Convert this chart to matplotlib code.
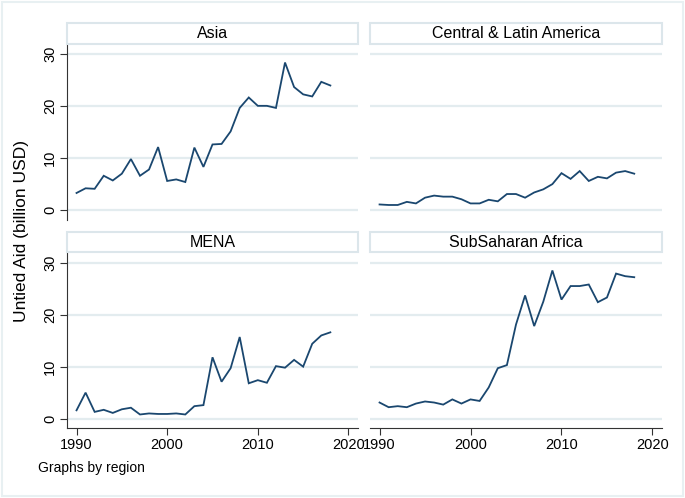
import matplotlib
matplotlib.use("Agg")
import matplotlib.pyplot as plt
from matplotlib.patches import Rectangle

plt.rcParams['font.family'] = ['Liberation Sans', 'DejaVu Sans']

# data (billion USD)
years = list(range(1990, 2019))
asia = [3.3, 4.2, 4.1, 6.6, 5.7, 7.0, 9.8, 6.6, 7.8, 12.1,
        5.6, 5.9, 5.4, 12.0, 8.3, 12.6, 12.7, 15.1, 19.6, 21.6,
        20.0, 20.0, 19.6, 28.3, 23.6, 22.2, 21.8, 24.6, 23.9]
latam = [1.1, 1.0, 1.0, 1.6, 1.3, 2.4, 2.8, 2.6, 2.6, 2.1,
         1.3, 1.3, 2.0, 1.7, 3.1, 3.1, 2.4, 3.4, 4.0, 5.0,
         7.1, 6.0, 7.5, 5.6, 6.4, 6.1, 7.2, 7.5, 7.0]
mena = [1.6, 5.0, 1.3, 1.7, 1.1, 1.8, 2.1, 0.8, 1.0, 0.9,
        0.9, 1.0, 0.8, 2.4, 2.6, 11.8, 7.1, 9.7, 15.7, 6.8,
        7.4, 6.9, 10.1, 9.8, 11.3, 10.0, 14.4, 16.0, 16.6]
ssa = [3.1, 2.2, 2.4, 2.2, 2.9, 3.3, 3.1, 2.7, 3.7, 2.9,
       3.7, 3.4, 6.0, 9.7, 10.3, 18.1, 23.7, 17.8, 22.5, 28.5,
       22.9, 25.5, 25.5, 25.8, 22.4, 23.3, 27.9, 27.4, 27.2]
regions = ['Asia', 'Central & Latin America', 'MENA', 'SubSaharan Africa']
series = [asia, latam, mena, ssa]
xticks = [1990, 2000, 2010, 2020]
yticks = [0, 10, 20, 30]

W, H = 685, 498
LINE = '#1a476f'
GRID = '#e3ecef'
STRIP_EDGE = '#dce6eb'

fig = plt.figure(figsize=(W / 100, H / 100), dpi=100)

# outer frame
fig.patches.append(Rectangle((2 / W, 2 / H), 681 / W, 494 / H, transform=fig.transFigure,
                             fill=False, ec='#e8f0f2', lw=1.5))

# panel boxes in pixels: (left, right) and (strip_top, strip_bottom, axes_top, axes_bottom)
cols = [(67, 358), (370, 662)]
rows = [(23, 44, 44, 219.6), (232, 252, 252, 428)]

for i, (name, vals) in enumerate(zip(regions, series)):
    r, c = divmod(i, 2)
    x0, x1 = cols[c]
    st, sb, at, ab = rows[r]

    # strip title
    fig.patches.append(Rectangle((x0 / W, 1 - sb / H), (x1 - x0) / W, (sb - st) / H,
                                 transform=fig.transFigure, fc='white', ec=STRIP_EDGE, lw=1.5))
    fig.text((x0 + x1) / 2 / W, 1 - (st + sb) / 2 / H, name, ha='center', va='center',
             fontsize=11.5, color='black')

    ax = fig.add_axes([x0 / W, 1 - ab / H, (x1 - x0) / W, (ab - at) / H])
    ax.set_xlim(1988.95, 2021.05)
    if r == 0:
        ax.set_ylim(-1.8, 31.85)
    else:
        ax.set_ylim(-1.8, 32.05)
    ax.set_yticks(yticks)
    ax.set_xticks(xticks)
    ax.yaxis.grid(True, color=GRID, lw=1.6)
    ax.set_axisbelow(True)
    ax.plot(years, vals, color=LINE, lw=1.3, solid_joinstyle='miter')

    for s in ['top', 'right']:
        ax.spines[s].set_visible(False)
    ax.spines['left'].set_visible(c == 0)
    ax.spines['bottom'].set_visible(r == 1)
    ax.spines['left'].set_color('#333333')
    ax.spines['bottom'].set_color('#333333')

    ax.tick_params(axis='y', left=(c == 0), labelleft=(c == 0), length=5,
                   color='#333333', labelsize=10.5, pad=2)
    ax.tick_params(axis='x', bottom=(r == 1), labelbottom=(r == 1), length=5,
                   color='#333333', labelsize=10.5, pad=2)
    for lab in ax.get_yticklabels():
        lab.set_rotation(90)
        lab.set_va('center')

fig.text(22 / W, 1 - 231 / H, 'Untied Aid (billion USD)', rotation=90,
         ha='center', va='center', fontsize=12.5)
fig.text(38 / W, 1 - 468 / H, 'Graphs by region', ha='left', va='center', fontsize=10)

fig.savefig('out.png', dpi=100)
